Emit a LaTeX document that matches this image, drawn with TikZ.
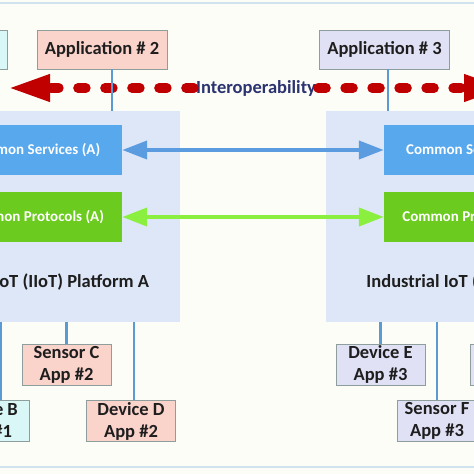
\documentclass[tikz,border=0pt]{standalone}
\usepackage{fontspec}
\setmainfont{Carlito}
\usetikzlibrary{arrows.meta}

\definecolor{paper}{HTML}{FDFDF7}
\definecolor{frame}{HTML}{CFE4EE}
\definecolor{plat}{HTML}{DEE7F8}
\definecolor{svc}{HTML}{58A8EE}
\definecolor{proto}{HTML}{6BCB1E}
\definecolor{svcline}{HTML}{5B9BE0}
\definecolor{protoline}{HTML}{8BEF3F}
\definecolor{iopred}{HTML}{C00000}
\definecolor{linkblue}{HTML}{5B9BD5}
\definecolor{pink}{HTML}{FAD3CB}
\definecolor{lav}{HTML}{E1E1F6}
\definecolor{cyanbox}{HTML}{D9F7F6}
\definecolor{boxline}{HTML}{8E9E9C}
\definecolor{ink}{HTML}{1E1E1E}
\definecolor{navy}{HTML}{2B3370}

\begin{document}
\begin{tikzpicture}[x=1pt,y=-1pt,
  every node/.style={font=\bfseries\fontsize{18.5}{22}\selectfont, text=ink, inner sep=0pt},
  appbox/.style={draw=boxline, line width=0.8pt, minimum width=130pt, minimum height=39pt},
  devbox/.style={draw=boxline, line width=0.8pt, minimum width=89pt, minimum height=41pt, align=center},
  platbox/.style={fill=plat, minimum width=300pt, minimum height=211pt},
  layerbox/.style={minimum width=176pt, minimum height=50pt, text=white,
    font=\bfseries\fontsize{15}{18}\selectfont},
  link/.style={draw=linkblue, line width=2.6pt},
  interop/.style={draw=iopred, line width=9.5pt, line cap=round, dash pattern=on 8pt off 19pt,
    -{Triangle[length=42pt, width=25pt, line join=miter]}},
  bothway/.style={line width=4pt, {Triangle[length=25pt, width=18pt]}-{Triangle[length=25pt, width=18pt]}}
]
  \useasboundingbox (0,0) rectangle (474,474);
  \clip (0,0) rectangle (474,474);
  \fill[paper] (0,0) rectangle (474,474);
  \draw[frame, line width=1.5pt] (-10,3) rectangle (484,467);

  % platforms and their layers
  \node[platbox] (platA) at (30,216.5) {};
  \node[platbox] (platB) at (476,216.5) {};
  \node (labA) at (33,282) {Industrial IoT (IIoT) Platform A};
  \node (labB) at (482,282) {Industrial IoT (IIoT) Platform B};
  \node[layerbox, fill=svc] (svcA) at (34,150) {Common Services (A)};
  \node[layerbox, fill=proto] (protoA) at (34,217) {Common Protocols (A)};
  \node[layerbox, fill=svc] (svcB) at (472,150) {Common Services (B)};
  \node[layerbox, fill=proto] (protoB) at (472,217) {Common Protocols (B)};
  \draw[bothway, draw=svcline, fill=svcline] (svcA) -- (svcB);
  \draw[bothway, draw=protoline, fill=protoline] (protoA) -- (protoB);

  % applications
  \node[appbox, fill=cyanbox] (app1) at (-58,49.5) {};
  \node[appbox, fill=pink] (app2) at (102,49.5) {Application \# 2};
  \node[appbox, fill=lav] (app3) at (384.5,49.5) {Application \# 3};

  % interoperability arrow
  \node[fill=paper, inner xsep=2pt, text=navy] (iop) at (256,88) {Interoperability};
  \coordinate (tipL) at (8,88);
  \coordinate (tipR) at (506,88);
  \draw[interop] (iop.west) -- (tipL);
  \draw[interop] (iop.east) -- (tipR);

  % devices and sensors
  \node[devbox, fill=cyanbox] (devB) at (-15,421) {Device B\\App \#1};
  \node[devbox, fill=pink] (senC) at (66.5,364.5) {Sensor C\\App \#2};
  \node[devbox, fill=pink] (devD) at (131,421) {Device D\\App \#2};
  \node[devbox, fill=lav] (devE) at (380.5,364.5) {Device E\\App \#3};
  \node[devbox, fill=lav, minimum width=80pt] (senF) at (437,421) {Sensor F\\App \#3};
  \node[devbox, fill=lav] (devX) at (514.5,364.5) {};

  % links
  \draw[link] ([xshift=10pt]app2.south) -- ([xshift=10pt]app2.south |- platA.north);
  \draw[link] ([xshift=3.5pt]app3.south) -- ([xshift=3.5pt]app3.south |- platB.north);
  \draw[link] ([xshift=16pt]devB.north) -- ([xshift=16pt]devB.north |- platA.south);
  \draw[link] (senC.north) -- (senC.north |- platA.south);
  \draw[link] ([xshift=3pt]devD.north) -- ([xshift=3pt]devD.north |- platA.south);
  \draw[link] (devE.north) -- (devE.north |- platB.south);
  \draw[link] (senF.north) -- (senF.north |- platB.south);
\end{tikzpicture}
\end{document}
